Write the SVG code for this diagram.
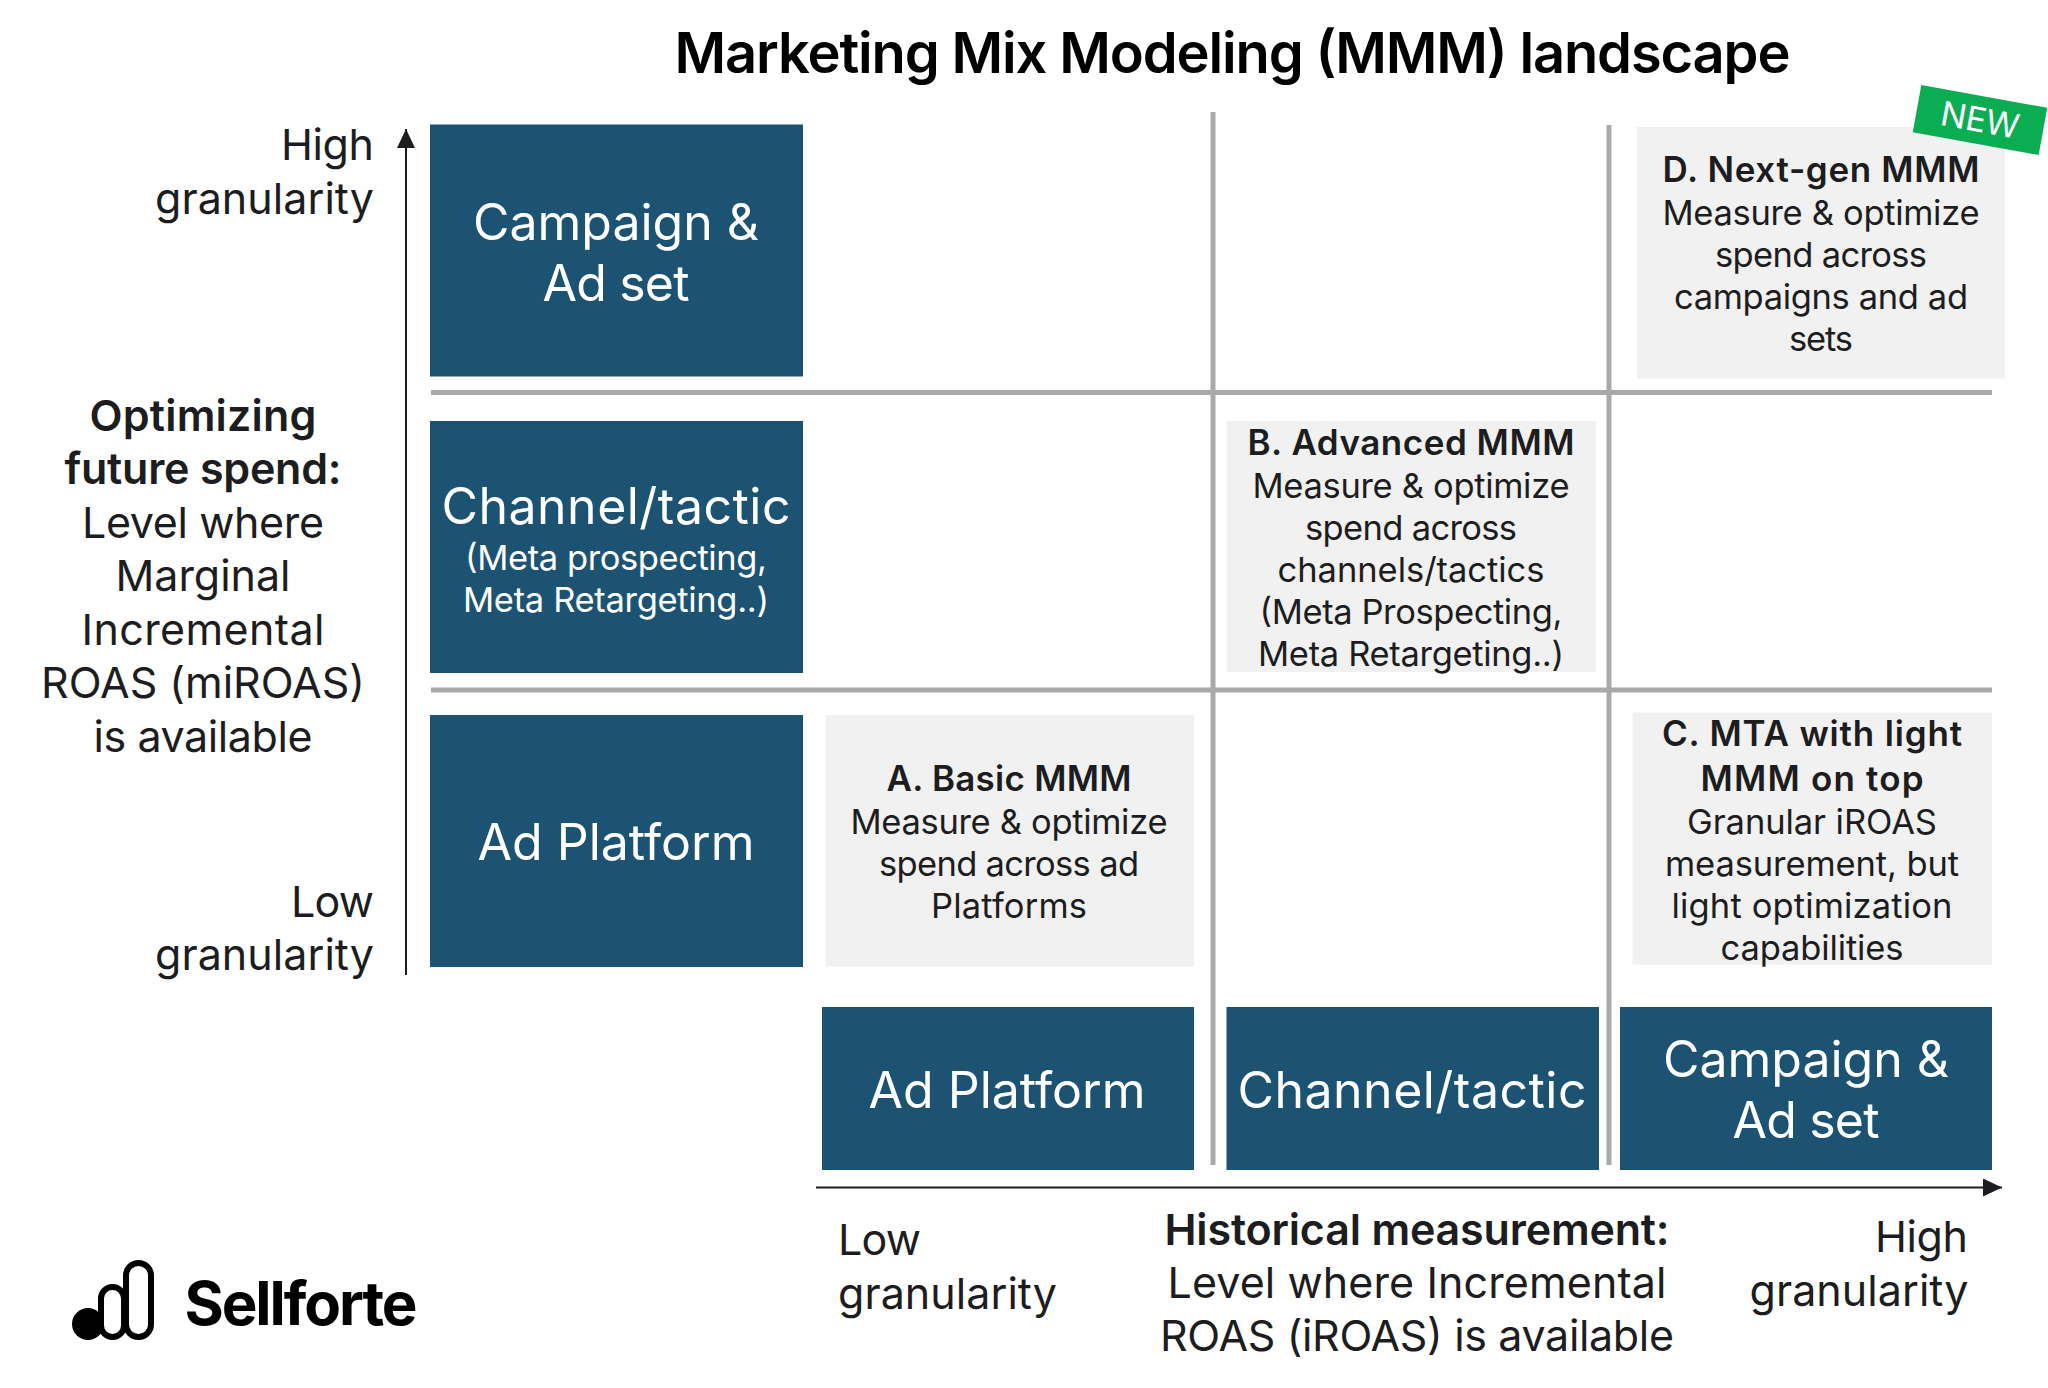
<svg xmlns="http://www.w3.org/2000/svg" width="2048" height="1388" viewBox="0 0 2048 1388">
<style>
text{font-family:"Inter","Liberation Sans",sans-serif;fill:#1d1d1f;text-anchor:middle}
.blue{fill:#1c5373}.grey{fill:#f1f1f1}
.big{font-size:50px;fill:#fff}.sub{font-size:34.5px;fill:#fff}
.b{font-size:34.5px}.bb{font-size:35px;font-weight:600}
.s{font-size:43px}.sb{font-size:43px;font-weight:600}
.e{text-anchor:end}.st{text-anchor:start}
.gl{stroke:#a9a9a9;stroke-width:5;fill:none}
.ax{stroke:#1d1d1f;stroke-width:2;fill:none}
</style>
<defs><marker id="ah" markerUnits="userSpaceOnUse" markerWidth="20" markerHeight="20" refX="19" refY="9" orient="auto"><path d="M0 0L19 9L0 18Z" fill="#1d1d1f"/></marker></defs>
<rect width="2048" height="1388" fill="#fff"/>
<text id="title" x="1232.500" y="73" font-size="56" font-weight="600" style="fill:#000" textLength="1116">Marketing Mix Modeling (MMM) landscape</text>
<g id="connectors">
<path class="gl" d="M1213 112V1165M1609 125V1165M431 392.5H1992M431 690H1992"/>
<path class="ax" d="M406 975V129" marker-end="url(#ah)"/>
<path class="ax" d="M816 1187.500H2002" marker-end="url(#ah)"/>
</g>
<g id="row-campaign"><rect class="blue" x="430" y="124.500" width="373" height="252"/><text class="big" x="616" y="240" textLength="286">Campaign &amp;</text><text class="big" x="616" y="301" textLength="147">Ad set</text></g>
<g id="row-channel"><rect class="blue" x="430" y="421" width="373" height="252"/><text class="big" x="616" y="524" textLength="349">Channel/tactic</text><text class="sub" x="616" y="570" textLength="302">(Meta prospecting,</text><text class="sub" x="616" y="612" textLength="306">Meta Retargeting..)</text></g>
<g id="row-platform"><rect class="blue" x="430" y="715" width="373" height="252"/><text class="big" x="616" y="860" textLength="277">Ad Platform</text></g>
<g id="col-platform"><rect class="blue" x="822" y="1007" width="372" height="163"/><text class="big" x="1007" y="1108" textLength="277">Ad Platform</text></g>
<g id="col-channel"><rect class="blue" x="1226.500" y="1007" width="372.500" height="163"/><text class="big" x="1412" y="1108" textLength="349">Channel/tactic</text></g>
<g id="col-campaign"><rect class="blue" x="1620" y="1007" width="372" height="163"/><text class="big" x="1806" y="1077" textLength="286">Campaign &amp;</text><text class="big" x="1806" y="1138" textLength="147">Ad set</text></g>
<g id="node-a"><rect class="grey" x="825.500" y="715" width="368.500" height="251.500"/><text class="bb" x="1009" y="791" textLength="245">A. Basic MMM</text><text class="b" x="1009" y="834" textLength="317">Measure &amp; optimize</text><text class="b" x="1009" y="876" textLength="260">spend across ad</text><text class="b" x="1009" y="918" textLength="156">Platforms</text></g>
<g id="node-b"><rect class="grey" x="1226.500" y="421" width="369.500" height="251"/><text class="bb" x="1411" y="455" textLength="327">B. Advanced MMM</text><text class="b" x="1411" y="498" textLength="317">Measure &amp; optimize</text><text class="b" x="1411" y="540" textLength="212">spend across</text><text class="b" x="1411" y="582" textLength="267">channels/tactics</text><text class="b" x="1411" y="624" textLength="303">(Meta Prospecting,</text><text class="b" x="1411" y="666" textLength="306">Meta Retargeting..)</text></g>
<g id="node-c"><rect class="grey" x="1632.500" y="712.500" width="359.500" height="252"/><text class="bb" x="1812" y="746" textLength="300">C. MTA with light</text><text class="bb" x="1812" y="791" textLength="223">MMM on top</text><text class="b" x="1812" y="834" textLength="250">Granular iROAS</text><text class="b" x="1812" y="876" textLength="294">measurement, but</text><text class="b" x="1812" y="918" textLength="281">light optimization</text><text class="b" x="1812" y="960" textLength="183">capabilities</text></g>
<g id="node-d"><rect class="grey" x="1637" y="127" width="368" height="251.500"/><text class="bb" x="1821" y="182" textLength="317">D. Next-gen MMM</text><text class="b" x="1821" y="225" textLength="317">Measure &amp; optimize</text><text class="b" x="1821" y="267" textLength="212">spend across</text><text class="b" x="1821" y="309" textLength="294">campaigns and ad</text><text class="b" x="1821" y="351" textLength="64">sets</text></g>
<g id="badge-new" transform="rotate(10.3 1980 120)"><rect x="1916" y="96" width="128" height="48" fill="#0aad52"/><text x="1980" y="132" font-size="34" style="fill:#fff" textLength="79">NEW</text></g>
<g id="y-axis-labels"><text class="s e" x="374" y="160" textLength="93">High</text><text class="s e" x="374" y="214" textLength="219">granularity</text><text class="s e" x="374" y="917" textLength="83">Low</text><text class="s e" x="374" y="970" textLength="219">granularity</text>
<text class="sb" x="203" y="431" textLength="227">Optimizing</text><text class="sb" x="203" y="484" textLength="277">future spend:</text><text class="s" x="203" y="538" textLength="242">Level where</text><text class="s" x="203" y="591" textLength="175">Marginal</text><text class="s" x="203" y="645" textLength="243">Incremental</text><text class="s" x="203" y="698" textLength="324">ROAS (miROAS)</text><text class="s" x="203" y="752" textLength="219">is available</text></g>
<g id="x-axis-labels"><text class="s st" x="838" y="1255" textLength="83">Low</text><text class="s st" x="838" y="1309" textLength="219">granularity</text><text class="sb" x="1417" y="1245" textLength="505">Historical measurement:</text><text class="s" x="1417" y="1298" textLength="499">Level where Incremental</text><text class="s" x="1417" y="1351" textLength="514">ROAS (iROAS) is available</text><text class="s e" x="1968" y="1252" textLength="93">High</text><text class="s e" x="1968.500" y="1306" textLength="219">granularity</text></g>
<g id="logo"><circle cx="88" cy="1324" r="16" fill="#000"/><rect x="101" y="1287" width="23" height="50" rx="11.500" fill="none" stroke="#000" stroke-width="6"/><rect x="126" y="1263" width="25" height="74" rx="12.500" fill="none" stroke="#000" stroke-width="6"/><text x="301" y="1325" font-size="60" font-weight="700" style="fill:#000" textLength="233">Sellforte</text></g>
</svg>
